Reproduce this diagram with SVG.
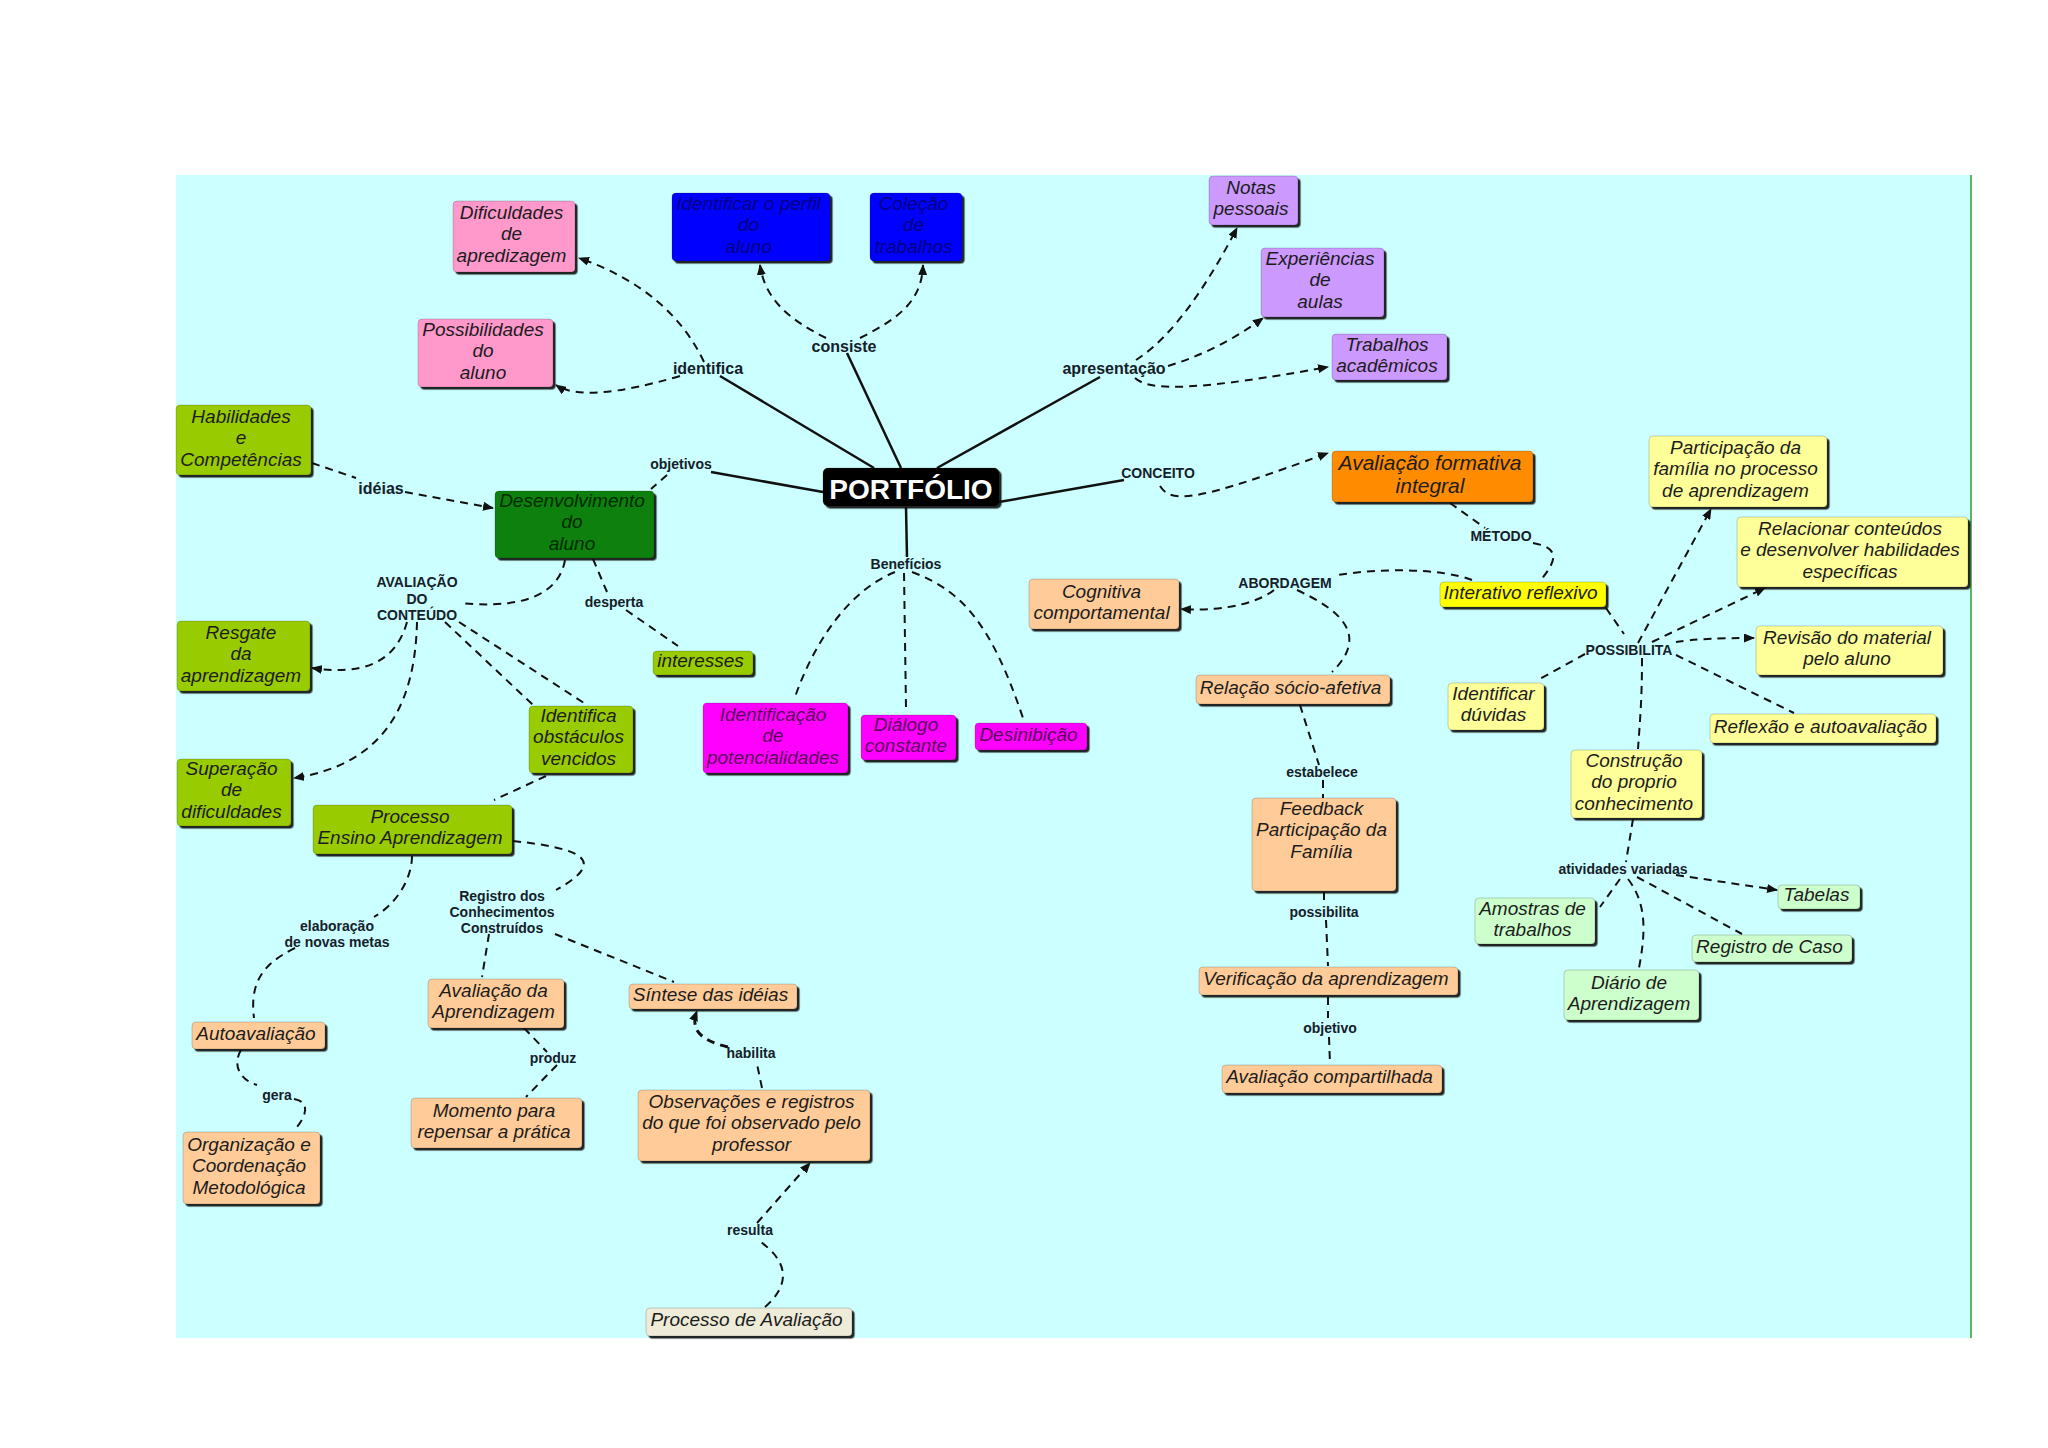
<svg xmlns="http://www.w3.org/2000/svg" width="2048" height="1448" viewBox="0 0 2048 1448">
<defs>
<style>
.bx{stroke:#000;stroke-opacity:.18;stroke-width:1;filter:url(#sh)}
.nt{font-family:"Liberation Sans",Arial,sans-serif;font-style:italic;font-size:19px;fill:#1c1c1c;text-anchor:middle;transform:translate(-2.5px,-2.5px)}
.lb{font-family:"Liberation Sans",Arial,sans-serif;font-weight:bold;font-size:14px;fill:#14202a;text-anchor:middle}
.lb16{font-size:16px}
.pink{fill:#FF99CC}.blue{fill:#0000FF}.lav{fill:#CC99FF}.olive{fill:#99CC00}.dkg{fill:#0A800A}
.mag{fill:#FF00FF}.peach{fill:#FFCC99}.orange{fill:#FF8C00}.yel{fill:#FFFF00}.lyel{fill:#FFFF99}
.lgr{fill:#CCFFCC}.beige{fill:#EEEBD9}.blk{fill:#000}
.tblue{fill:#000080}.tmag{fill:#5a005a}.tdkg{fill:#002a00}
.d{fill:none;stroke:#111;stroke-width:2;stroke-dasharray:8 6}
.s{fill:none;stroke:#111;stroke-width:2.5}
.a{marker-end:url(#ar)}
</style>
<filter id="sh" x="-10%" y="-10%" width="130%" height="140%">
<feDropShadow dx="2.5" dy="2.5" stdDeviation="0.6" flood-color="#111" flood-opacity="0.9"/>
</filter>
<marker id="ar" markerWidth="11" markerHeight="9" refX="10" refY="4.5" orient="auto" markerUnits="userSpaceOnUse">
<path d="M0,0 L11,4.5 L0,9 z" fill="#111"/>
</marker>
</defs>
<rect x="0" y="0" width="2048" height="1448" fill="#FFFFFF"/>
<rect x="176" y="175" width="1795" height="1163" fill="#CCFFFF"/>
<line x1="1971" y1="175" x2="1971" y2="1338" stroke="#2E9E2E" stroke-width="1.5"/>

<g id="connectors">
<path class="s" d="M720 376 L874 468"/>
<path class="s" d="M847 353 L901 468"/>
<path class="s" d="M1100 377 L937 468"/>
<path class="s" d="M711 472 L823 492"/>
<path class="s" d="M1124 480 L999 502"/>
<path class="s" d="M906 507 L907 557"/>
<path class="d a" d="M704 362 Q670 290 579 258"/>
<path class="d a" d="M680 376 Q584 404 556 385"/>
<path class="d a" d="M826 338 C790 320 765 300 760 265"/>
<path class="d a" d="M860 338 C900 318 922 300 923 265"/>
<path class="d a" d="M1136 360 C1175 335 1210 280 1237 228"/>
<path class="d a" d="M1168 366 Q1220 350 1263 318"/>
<path class="d a" d="M1135 378 C1150 392 1200 390 1328 367"/>
<path class="d a" d="M1160 486 C1172 505 1200 500 1328 453"/>
<path class="d" d="M667 475 L651 489"/>
<path class="d" d="M312 463 L356 478"/>
<path class="d a" d="M405 492 L493 508"/>
<path class="d" d="M565 560 C560 590 530 610 461 603"/>
<path class="d" d="M593 559 L607 592"/>
<path class="d" d="M626 610 L678 646"/>
<path class="d a" d="M407 622 C395 665 360 675 312 668"/>
<path class="d a" d="M417 622 C415 710 380 765 294 778"/>
<path class="d" d="M445 622 L533 705"/>
<path class="d" d="M459 622 L584 703"/>
<path class="d" d="M546 776 L494 800"/>
<path class="d" d="M513 841 C580 848 610 860 556 890"/>
<path class="d" d="M412 856 C412 880 395 905 374 917"/>
<path class="d" d="M295 948 C260 965 250 985 254 1018"/>
<path class="d" d="M489 934 L482 977"/>
<path class="d" d="M555 934 L674 982"/>
<path class="d" d="M524 1028 L547 1052"/>
<path class="d" d="M557 1065 L526 1097"/>
<path class="d" d="M241 1050 C232 1065 240 1080 257 1085"/>
<path class="d" d="M294 1099 C312 1102 305 1118 296 1128"/>
<path class="d" d="M762 1088 L757 1064"/>
<path class="d a" style="stroke-width:3" d="M728 1047 C700 1040 690 1030 697 1011"/>
<path class="d" d="M765 1307 C790 1285 790 1262 758 1240"/>
<path class="d a" d="M757 1223 L810 1163"/>
<path class="d" d="M895 572 C850 590 815 640 795 697"/>
<path class="d" d="M904 573 L906 707"/>
<path class="d" d="M912 572 C960 590 990 620 1023 718"/>
<path class="d" d="M1450 503 L1485 528"/>
<path class="d" d="M1533 543 C1560 548 1558 560 1539 582"/>
<path class="d" d="M1472 580 C1440 568 1380 568 1338 575"/>
<path class="d a" d="M1274 590 C1262 600 1230 612 1181 609"/>
<path class="d" d="M1297 590 C1340 610 1370 635 1332 672"/>
<path class="d" d="M1300 705 L1319 765"/>
<path class="d" d="M1323 780 L1323 798"/>
<path class="d" d="M1324 892 L1324 903"/>
<path class="d" d="M1326 920 L1328 966"/>
<path class="d" d="M1328 997 L1328 1018"/>
<path class="d" d="M1329 1037 L1330 1064"/>
<path class="d" d="M1606 608 L1624 634"/>
<path class="d a" d="M1638 643 L1711 509"/>
<path class="d a" d="M1652 642 L1765 588"/>
<path class="d a" d="M1676 642 Q1700 638 1754 638"/>
<path class="d" d="M1676 655 L1794 713"/>
<path class="d" d="M1585 654 L1536 681"/>
<path class="d" d="M1642 658 C1642 700 1640 720 1638 749"/>
<path class="d" d="M1633 819 L1626 862"/>
<path class="d a" d="M1676 875 L1777 890"/>
<path class="d" d="M1637 877 L1742 934"/>
<path class="d" d="M1628 879 C1648 905 1645 935 1639 968"/>
<path class="d" d="M1620 879 L1600 907"/>
</g>

<g id="labels">
<text class="lb lb16" x="708" y="374">identifica</text>
<text class="lb lb16" x="844" y="352">consiste</text>
<text class="lb lb16" x="1114" y="374">apresentação</text>
<text class="lb" x="681" y="469">objetivos</text>
<text class="lb" x="1158" y="478">CONCEITO</text>
<text class="lb" x="906" y="569">Benefícios</text>
<text class="lb lb16" x="381" y="494">idéias</text>
<text class="lb" x="417" y="587">AVALIAÇÃO<tspan x="417" dy="16.5">DO</tspan><tspan x="417" dy="16.5">CONTEÚDO</tspan></text>
<text class="lb" x="614" y="607">desperta</text>
<text class="lb" x="1501" y="541">MÉTODO</text>
<text class="lb" x="1285" y="588">ABORDAGEM</text>
<text class="lb" x="1629" y="655">POSSIBILITA</text>
<text class="lb" x="1322" y="777">estabelece</text>
<text class="lb" x="1324" y="917">possibilita</text>
<text class="lb" x="1330" y="1033">objetivo</text>
<text class="lb" x="1623" y="874">atividades variadas</text>
<text class="lb" x="502" y="901">Registro dos<tspan x="502" dy="16">Conhecimentos</tspan><tspan x="502" dy="16">Construídos</tspan></text>
<text class="lb" x="337" y="931">elaboração<tspan x="337" dy="16">de novas metas</tspan></text>
<text class="lb" x="553" y="1063">produz</text>
<text class="lb" x="751" y="1058">habilita</text>
<text class="lb" x="277" y="1100">gera</text>
<text class="lb" x="750" y="1235">resulta</text>
</g>

<g id="n_portfolio"><rect class="bx blk" x="823" y="468" width="176" height="38" rx="5"/><text x="911" y="499" style="font-family:'Liberation Sans',Arial,sans-serif;font-weight:bold;font-size:28px;fill:#fff;text-anchor:middle">PORTFÓLIO</text></g>

<g id="n_dificuldades"><rect class="bx pink" x="453" y="201" width="122" height="71" rx="4"/><text class="nt" x="514" y="221">Dificuldades<tspan x="514" dy="21.7">de</tspan><tspan x="514" dy="21.7">apredizagem</tspan></text></g>
<g id="n_possibilidades"><rect class="bx pink" x="418" y="319" width="135" height="68" rx="4"/><text class="nt" x="485.5" y="338">Possibilidades<tspan x="485.5" dy="21.7">do</tspan><tspan x="485.5" dy="21.7">aluno</tspan></text></g>
<g id="n_perfil"><rect class="bx blue" x="672" y="193" width="158" height="68" rx="4"/><text class="nt tblue" x="751" y="212">Identificar o perfil<tspan x="751" dy="21.7">do</tspan><tspan x="751" dy="21.7">aluno</tspan></text></g>
<g id="n_colecao"><rect class="bx blue" x="870" y="193" width="92" height="68" rx="4"/><text class="nt tblue" x="916" y="212">Coleção<tspan x="916" dy="21.7">de</tspan><tspan x="916" dy="21.7">trabalhos</tspan></text></g>
<g id="n_notas"><rect class="bx lav" x="1209" y="176" width="89" height="49" rx="4"/><text class="nt" x="1253.5" y="196">Notas<tspan x="1253.5" dy="21.7">pessoais</tspan></text></g>
<g id="n_experiencias"><rect class="bx lav" x="1261" y="248" width="123" height="69" rx="4"/><text class="nt" x="1322.5" y="267">Experiências<tspan x="1322.5" dy="21.7">de</tspan><tspan x="1322.5" dy="21.7">aulas</tspan></text></g>
<g id="n_trabalhos"><rect class="bx lav" x="1332" y="334" width="115" height="46" rx="4"/><text class="nt" x="1389.5" y="353">Trabalhos<tspan x="1389.5" dy="21.7">acadêmicos</tspan></text></g>
<g id="n_habilidades"><rect class="bx olive" x="176" y="405" width="135" height="70" rx="4"/><text class="nt" x="243.5" y="425">Habilidades<tspan x="243.5" dy="21.7">e</tspan><tspan x="243.5" dy="21.7">Competências</tspan></text></g>
<g id="n_desenvolvimento"><rect class="bx dkg" x="495" y="491" width="159" height="67" rx="4"/><text class="nt tdkg" x="574.5" y="509">Desenvolvimento<tspan x="574.5" dy="21.7">do</tspan><tspan x="574.5" dy="21.7">aluno</tspan></text></g>
<g id="n_resgate"><rect class="bx olive" x="177" y="621" width="133" height="70" rx="4"/><text class="nt" x="243.5" y="641">Resgate<tspan x="243.5" dy="21.7">da</tspan><tspan x="243.5" dy="21.7">aprendizagem</tspan></text></g>
<g id="n_interesses"><rect class="bx olive" x="653" y="651" width="100" height="24" rx="4"/><text class="nt" x="703" y="669.5">interesses</text></g>
<g id="n_obstaculos"><rect class="bx olive" x="529" y="706" width="104" height="67" rx="4"/><text class="nt" x="581" y="724">Identifica<tspan x="581" dy="21.7">obstáculos</tspan><tspan x="581" dy="21.7">vencidos</tspan></text></g>
<g id="n_superacao"><rect class="bx olive" x="177" y="759" width="114" height="67" rx="4"/><text class="nt" x="234" y="777">Superação<tspan x="234" dy="21.7">de</tspan><tspan x="234" dy="21.7">dificuldades</tspan></text></g>
<g id="n_processo"><rect class="bx olive" x="313" y="805" width="199" height="49" rx="4"/><text class="nt" x="412.5" y="825">Processo<tspan x="412.5" dy="21.7">Ensino Aprendizagem</tspan></text></g>
<g id="n_identificacao"><rect class="bx mag" x="703" y="703" width="145" height="70" rx="4"/><text class="nt tmag" x="775.5" y="723">Identificação<tspan x="775.5" dy="21.7">de</tspan><tspan x="775.5" dy="21.7">potencialidades</tspan></text></g>
<g id="n_dialogo"><rect class="bx mag" x="861" y="715" width="95" height="45" rx="4"/><text class="nt tmag" x="908.5" y="733">Diálogo<tspan x="908.5" dy="21.7">constante</tspan></text></g>
<g id="n_desinibicao"><rect class="bx mag" x="975" y="723" width="112" height="27" rx="4"/><text class="nt tmag" x="1031" y="743">Desinibição</text></g>
<g id="n_cognitiva"><rect class="bx peach" x="1029" y="579" width="150" height="50" rx="4"/><text class="nt" x="1104" y="600">Cognitiva<tspan x="1104" dy="21.7">comportamental</tspan></text></g>
<g id="n_formativa"><rect class="bx orange" x="1332" y="451" width="201" height="51" rx="4"/><text class="nt" style="font-size:21px" x="1432.5" y="472">Avaliação formativa<tspan x="1432.5" dy="23">integral</tspan></text></g>
<g id="n_interativo"><rect class="bx yel" x="1440" y="582" width="166" height="25" rx="4"/><text class="nt" x="1523" y="601">Interativo reflexivo</text></g>
<g id="n_participacao"><rect class="bx lyel" x="1649" y="436" width="178" height="71" rx="4"/><text class="nt" x="1738" y="456">Participação da<tspan x="1738" dy="21.7">família no processo</tspan><tspan x="1738" dy="21.7">de aprendizagem</tspan></text></g>
<g id="n_relacionar"><rect class="bx lyel" x="1737" y="517" width="231" height="70" rx="4"/><text class="nt" x="1852.5" y="537">Relacionar conteúdos<tspan x="1852.5" dy="21.7">e desenvolver habilidades</tspan><tspan x="1852.5" dy="21.7">específicas</tspan></text></g>
<g id="n_revisao"><rect class="bx lyel" x="1756" y="626" width="187" height="49" rx="4"/><text class="nt" x="1849.5" y="646">Revisão do material<tspan x="1849.5" dy="21.7">pelo aluno</tspan></text></g>
<g id="n_duvidas"><rect class="bx lyel" x="1448" y="683" width="96" height="47" rx="4"/><text class="nt" x="1496" y="702">Identificar<tspan x="1496" dy="21.7">dúvidas</tspan></text></g>
<g id="n_reflexao"><rect class="bx lyel" x="1710" y="714" width="226" height="29" rx="4"/><text class="nt" x="1823" y="735">Reflexão e autoavaliação</text></g>
<g id="n_construcao"><rect class="bx lyel" x="1571" y="750" width="131" height="68" rx="4"/><text class="nt" x="1636.5" y="769">Construção<tspan x="1636.5" dy="21.7">do proprio</tspan><tspan x="1636.5" dy="21.7">conhecimento</tspan></text></g>
<g id="n_relacao"><rect class="bx peach" x="1196" y="675" width="194" height="29" rx="4"/><text class="nt" x="1293" y="696">Relação sócio-afetiva</text></g>
<g id="n_feedback"><rect class="bx peach" x="1252" y="798" width="144" height="93" rx="4"/><text class="nt" x="1324" y="817">Feedback<tspan x="1324" dy="21.7">Participação da</tspan><tspan x="1324" dy="21.7">Família</tspan></text></g>
<g id="n_verificacao"><rect class="bx peach" x="1199" y="967" width="259" height="28" rx="4"/><text class="nt" x="1328.5" y="987.5">Verificação da aprendizagem</text></g>
<g id="n_compartilhada"><rect class="bx peach" x="1222" y="1065" width="220" height="28" rx="4"/><text class="nt" x="1332" y="1085.5">Avaliação compartilhada</text></g>
<g id="n_amostras"><rect class="bx lgr" x="1475" y="898" width="120" height="46" rx="4"/><text class="nt" x="1535" y="917">Amostras de<tspan x="1535" dy="21.7">trabalhos</tspan></text></g>
<g id="n_tabelas"><rect class="bx lgr" x="1778" y="885" width="82" height="24" rx="4"/><text class="nt" x="1819" y="903.5">Tabelas</text></g>
<g id="n_registro"><rect class="bx lgr" x="1692" y="935" width="160" height="27" rx="4"/><text class="nt" x="1772" y="955">Registro de Caso</text></g>
<g id="n_diario"><rect class="bx lgr" x="1564" y="970" width="135" height="50" rx="4"/><text class="nt" x="1631.5" y="991">Diário de<tspan x="1631.5" dy="21.7">Aprendizagem</tspan></text></g>
<g id="n_avaliacao_apr"><rect class="bx peach" x="428" y="979" width="136" height="49" rx="4"/><text class="nt" x="496" y="999">Avaliação da<tspan x="496" dy="21.7">Aprendizagem</tspan></text></g>
<g id="n_sintese"><rect class="bx peach" x="629" y="984" width="168" height="25" rx="4"/><text class="nt" x="713" y="1003">Síntese das idéias</text></g>
<g id="n_autoavaliacao"><rect class="bx peach" x="192" y="1022" width="133" height="27" rx="4"/><text class="nt" x="258.5" y="1042">Autoavaliação</text></g>
<g id="n_momento"><rect class="bx peach" x="411" y="1098" width="171" height="50" rx="4"/><text class="nt" x="496.5" y="1119">Momento para<tspan x="496.5" dy="21.7">repensar a prática</tspan></text></g>
<g id="n_observacoes"><rect class="bx peach" x="638" y="1090" width="232" height="71" rx="4"/><text class="nt" x="754" y="1110">Observações e registros<tspan x="754" dy="21.7">do que foi observado pelo</tspan><tspan x="754" dy="21.7">professor</tspan></text></g>
<g id="n_organizacao"><rect class="bx peach" x="183" y="1132" width="137" height="72" rx="4"/><text class="nt" x="251.5" y="1153">Organização e<tspan x="251.5" dy="21.7">Coordenação</tspan><tspan x="251.5" dy="21.7">Metodológica</tspan></text></g>
<g id="n_processo_avaliacao"><rect class="bx beige" x="646" y="1308" width="206" height="28" rx="4"/><text class="nt" x="749" y="1328.5">Processo de Avaliação</text></g>
</svg>
